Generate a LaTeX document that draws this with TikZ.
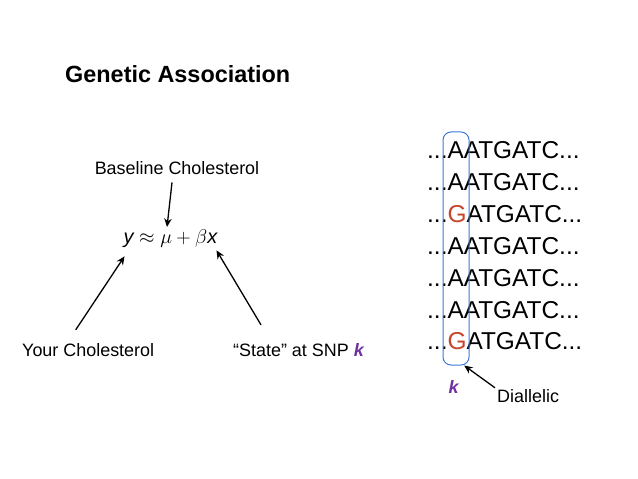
\RequirePackage{fix-cm}
\documentclass[tikz,border=0pt]{standalone}
\usepackage{fontspec}
\setmainfont{Liberation Sans}
\usetikzlibrary{arrows.meta}
\definecolor{snpred}{HTML}{C8442A}
\definecolor{kpurple}{HTML}{7030A0}
\definecolor{colblue}{HTML}{3C78D8}
\tikzset{
  lbl/.style={inner sep=0pt, anchor=base, font=\fontsize{18}{21}\selectfont},
  seq/.style={inner sep=0pt, anchor=base west, font=\fontsize{24.5}{28}\selectfont},
  arr/.style={-{Stealth[length=8.5pt,width=7.5pt]}, line width=1.3pt},
}
\newcommand{\kvar}{\textcolor{kpurple}{\textbf{\textit{k}}}}
\begin{document}
\begin{tikzpicture}[x=1bp,y=-1bp]
\useasboundingbox[fill=white] (0,0) rectangle (638,479);
% title
\node[inner sep=0pt, anchor=base west, font=\fontsize{23.5}{28}\selectfont\bfseries] (title) at (65,83) {Genetic Association};
% model
\node[lbl] (base) at (177,175) {Baseline Cholesterol};
\node[inner sep=0pt, anchor=base, font=\fontsize{20}{24}\selectfont] (eq) at (170.5,244) {$\textit{y}\approx\mu+\beta\textit{x}$};
\node[lbl, anchor=base west] (your) at (22,356) {Your Cholesterol};
\node[lbl, anchor=base west] (state) at (233,356) {“State” at SNP \kvar};
\draw[arr] ([xshift=-5,yshift=-7]base.south) -- ([xshift=-3.5,yshift=3]eq.north);
\draw[arr] ([xshift=-12.5,yshift=13]your.north) -- ([xshift=1,yshift=-8]eq.south west);
\draw[arr] ([xshift=-38,yshift=18]state.north) -- ([xshift=-1,yshift=-2]eq.south east);
% sequences
\foreach \c/\b [count=\i from 0] in {black/A,black/A,snpred/G,black/A,black/A,black/A,snpred/G}
  \node[seq] (row\i) at (427,159+31.8*\i) {...\textcolor{\c}{\b}ATGATC...};
\node[draw=colblue, line width=1pt, rounded corners=8pt, minimum width=26bp, minimum height=233bp, inner sep=0pt] (col) at (456,248.5) {};
\node[lbl] (klab) at (454,393) {\kvar};
\node[lbl, anchor=base west] (dial) at (497,402) {Diallelic};
\draw[arr] ([xshift=-2,yshift=1]dial.north west) -- (col.-86.5);
\end{tikzpicture}
\end{document}
